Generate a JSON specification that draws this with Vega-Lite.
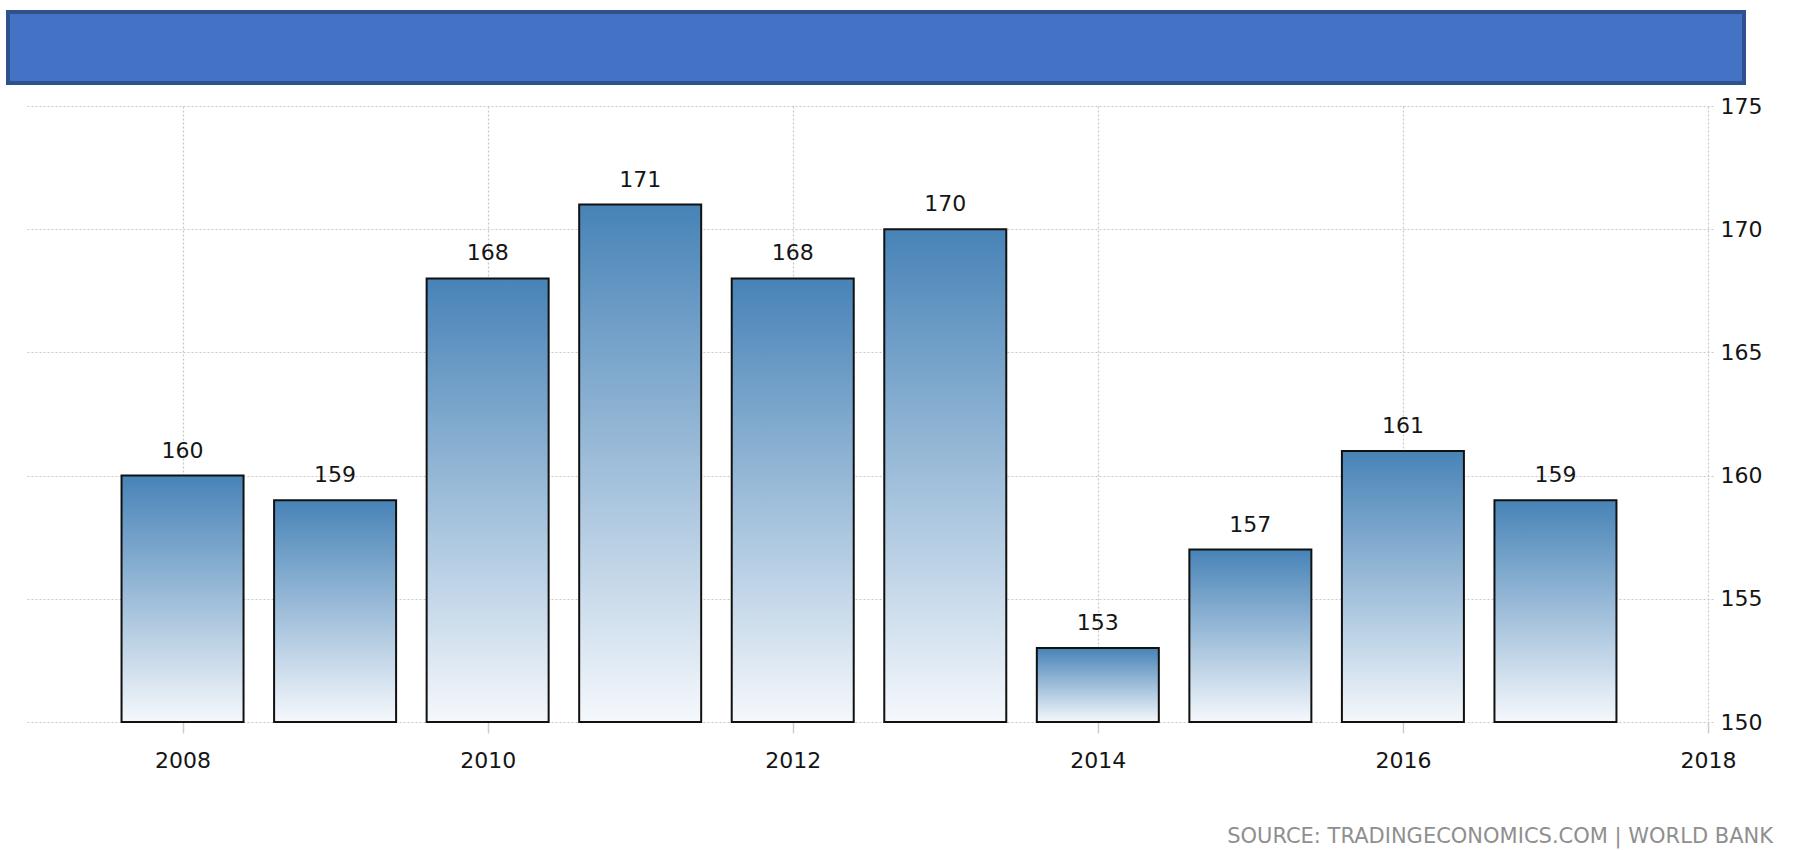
{
  "$schema": "https://vega.github.io/schema/vega-lite/v6.json",
  "background": "white",
  "padding": {"left": 6, "top": 10, "right": 5, "bottom": 5},
  "config": {"view": {"stroke": null}, "font": "DejaVu Sans"},
  "title": {
    "text": "SOURCE: TRADINGECONOMICS.COM | WORLD BANK",
    "orient": "bottom",
    "anchor": "end",
    "fontSize": 21,
    "fontWeight": "normal",
    "color": "#8f8f8f",
    "offset": 55,
    "dx": 11,
    "font": "DejaVu Sans"
  },
  "spacing": 10,
  "vconcat": [
    {
      "width": 1736,
      "height": 71,
      "view": {"fill": "#4472C4", "stroke": "#2F528F", "strokeWidth": 4},
      "data": {"values": [{"t": " "}]},
      "mark": {"type": "text", "opacity": 0},
      "encoding": {"text": {"field": "t"}}
    },
    {
      "spacing": 0,
      "hconcat": [
        {
          "width": 17,
          "height": 10,
          "data": {"values": [{"t": ""}]},
          "mark": {"type": "rect", "opacity": 0},
          "encoding": {}
        },
        {
          "width": 1688,
          "height": 616,
          "data": {
            "values": [
              {"year": 2008, "value": 160},
              {"year": 2009, "value": 159},
              {"year": 2010, "value": 168},
              {"year": 2011, "value": 171},
              {"year": 2012, "value": 168},
              {"year": 2013, "value": 170},
              {"year": 2014, "value": 153},
              {"year": 2015, "value": 157},
              {"year": 2016, "value": 161},
              {"year": 2017, "value": 159}
            ]
          },
          "encoding": {
            "x": {
              "field": "year",
              "type": "quantitative",
              "scale": {"domain": [2007, 2018], "nice": false, "zero": false},
              "axis": {
                "values": [2008, 2010, 2012, 2014, 2016, 2018],
                "format": "d",
                "title": null,
                "domain": false,
                "labelFlush": false,
                "labelFontSize": 22,
                "labelColor": "#151515",
                "labelPadding": 17,
                "tickSize": 11,
                "tickColor": "#cccccc",
                "tickWidth": 1.5,
                "grid": true,
                "gridColor": "#c8c8c8",
                "gridDash": [2, 2],
                "gridWidth": 1.2
              }
            }
          },
          "layer": [
            {
              "mark": {
                "type": "bar",
                "width": 122,
                "stroke": "#111111",
                "strokeWidth": 2,
                "fill": {
                  "x1": 0, "y1": 0, "x2": 0, "y2": 1,
                  "gradient": "linear",
                  "stops": [
                    {"offset": 0, "color": "#4783b7"},
                    {"offset": 1, "color": "#f5f8fc"}
                  ]
                }
              },
              "encoding": {
                "y": {
                  "field": "value",
                  "type": "quantitative",
                  "scale": {"domain": [150, 175], "nice": false, "zero": false},
                  "axis": {
                    "orient": "right",
                    "values": [150, 155, 160, 165, 170, 175],
                    "title": null,
                    "domain": false,
                    "ticks": false,
                    "labelFlush": false,
                    "labelFontSize": 22,
                    "labelColor": "#151515",
                    "labelPadding": 7,
                    "labelBaseline": "middle",
                    "grid": true,
                    "gridColor": "#c8c8c8",
                    "gridDash": [2, 2],
                    "gridWidth": 1.2
                  }
                },
                "y2": {"datum": 150}
              }
            },
            {
              "mark": {"type": "text", "baseline": "alphabetic", "dy": -18, "fontSize": 22, "color": "#151515"},
              "encoding": {
                "y": {"field": "value", "type": "quantitative"},
                "text": {"field": "value", "type": "quantitative"}
              }
            }
          ]
        }
      ]
    }
  ]
}
